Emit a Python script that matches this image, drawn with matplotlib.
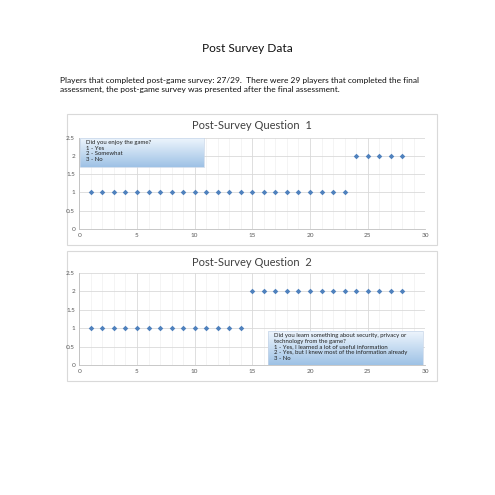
import numpy as np
import matplotlib
matplotlib.use("Agg")
import matplotlib.pyplot as plt
from matplotlib.patches import Rectangle

plt.rcParams['font.family'] = ['Lato', 'DejaVu Sans']

# player number vs. answer
players = list(range(1, 29))
q1_answers = [1, 1, 1, 1, 1, 1, 1, 1, 1, 1, 1, 1, 1, 1, 1, 1, 1, 1, 1, 1, 1, 1, 1,
              2, 2, 2, 2, 2]
q2_answers = [1, 1, 1, 1, 1, 1, 1, 1, 1, 1, 1, 1, 1, 1,
              2, 2, 2, 2, 2, 2, 2, 2, 2, 2, 2, 2, 2, 2]

page_title = "Post Survey Data"
intro = ("Players that completed post-game survey: 27/29.  There were 29 players that completed the final\n"
         "assessment, the post-game survey was presented after the final assessment.")
chart_titles = ["Post-Survey Question  1", "Post-Survey Question  2"]
q1_note = "Did you enjoy the game?\n1 - Yes\n2 - Somewhat\n3 - No"
q2_note = ("Did you learn something about security, privacy or\n"
           "technology from the game?\n"
           "1 - Yes, I learned a lot of useful information\n"
           "2 - Yes, but I knew most of the information already\n"
           "3 - No")

BLUE = "#4F81BD"
GRID = "#D9D9D9"
W = H = 495.0


def fig_rect(x0, y0, x1, y1):
    """pixel box (top-left origin) -> figure coords [l, b, w, h]"""
    return [x0 / W, 1 - y1 / H, (x1 - x0) / W, (y1 - y0) / H]


def gradient_box(ax, x0, x1, y0, y1, text, fs):
    grad = np.linspace(0, 1, 50).reshape(-1, 1)
    top = np.array([0.93, 0.96, 0.99])
    bot = np.array([0.62, 0.76, 0.90])
    img = top + (bot - top) * grad[..., None]
    ax.imshow(img, extent=(x0, x1, y0, y1), origin="upper", aspect="auto",
              zorder=4, interpolation="bilinear")
    ax.add_patch(Rectangle((x0, y0), x1 - x0, y1 - y0, fill=False,
                           edgecolor="#C6D5E8", lw=0.5, zorder=5))
    ax.text(x0 + 0.5, y1 - 0.06, text, fontsize=fs, va="top", ha="left",
            color="#1F1F1F", linespacing=1.15, zorder=6)


def scatter_chart(fig, box_px, ax_px, title, answers):
    # outer chart frame, kept behind the axes
    l, b, w, h = fig_rect(*box_px)
    fig.patches.append(Rectangle((l, b), w, h, transform=fig.transFigure,
                                 fill=False, edgecolor="#D9D9D9", lw=0.8,
                                 zorder=-5))
    ax = fig.add_axes(fig_rect(*ax_px))
    ax.patch.set_alpha(0)
    ax.scatter(players, answers, s=8, marker="D", color=BLUE, zorder=3,
               linewidths=0)
    ax.set_xlim(0, 30)
    ax.set_ylim(0, 2.5)
    ax.set_xticks(range(0, 31, 5))
    ax.set_xticks(range(0, 31, 1), minor=True)
    ax.set_yticks([0, 0.5, 1, 1.5, 2, 2.5])
    ax.set_yticklabels(["0", "0.5", "1", "1.5", "2", "2.5"])
    ax.grid(True, which="major", color=GRID, lw=0.6)
    ax.grid(True, which="minor", axis="x", color="#EDEDED", lw=0.4)
    ax.set_axisbelow(True)
    for side in ["top", "right"]:
        ax.spines[side].set_visible(False)
    for side in ["left", "bottom"]:
        ax.spines[side].set_color("#BFBFBF")
        ax.spines[side].set_linewidth(0.6)
    ax.tick_params(which="both", length=0, labelsize=4.6, colors="#595959", pad=3)
    fig.text((box_px[0] + box_px[2]) / 2 / W, 1 - (box_px[1] + 11) / H, title,
             ha="center", va="center", fontsize=8, color="#404040")
    return ax


fig = plt.figure(figsize=(4.95, 4.95), dpi=100)
fig.patch.set_facecolor("white")

fig.text(0.5, 1 - 48 / H, page_title, ha="center", va="center",
         fontsize=8.6, color="#111111")
fig.text(60 / W, 1 - 85 / H, intro, ha="left", va="center",
         fontsize=6.0, color="#111111", linespacing=1.2)

ax1 = scatter_chart(fig, (67, 114, 437, 245), (79.3, 137.7, 425.3, 229),
                    chart_titles[0], q1_answers)
gradient_box(ax1, 0.05, 10.8, 1.7, 2.49, q1_note, 4.3)

ax2 = scatter_chart(fig, (67, 251, 437, 381), (79.3, 273, 425.3, 365),
                    chart_titles[1], q2_answers)
gradient_box(ax2, 16.4, 29.8, 0.0, 0.92, q2_note, 4.3)

fig.savefig("out.png", dpi=100, facecolor="white")
